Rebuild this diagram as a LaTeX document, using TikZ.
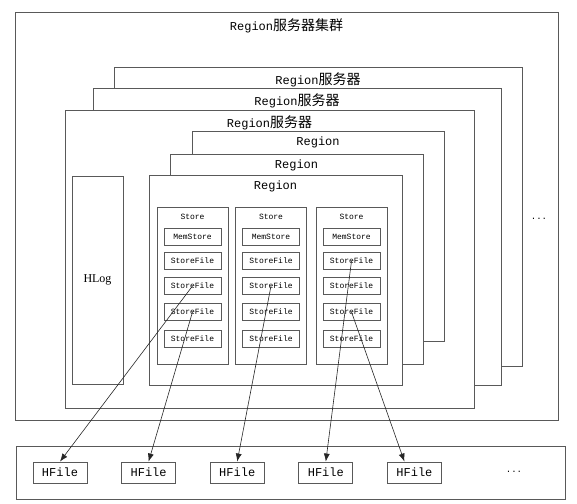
\documentclass[tikz,border=0pt]{standalone}
\usepackage{fontspec}
\setmainfont{Liberation Serif}
\setmonofont{Liberation Mono}
\newfontfamily\cjk{Noto Sans CJK SC}
\usetikzlibrary{arrows.meta}
\newcommand{\zh}[1]{{\cjk\fontsize{14}{14}\selectfont #1}}
\begin{document}
\begin{tikzpicture}[x=1pt, y=-1pt,
    box/.style={draw=gray!70!black, fill=white, line width=0.9pt, inner sep=0pt},
    big/.style={font=\fontsize{12}{14}\selectfont\ttfamily},
    small/.style={font=\fontsize{8}{10}\selectfont\ttfamily},
    title/.style={anchor=north, yshift=-6pt, inner sep=0pt, big},
    file/.style={box, small, minimum width=57pt, minimum height=17pt},
    link/.style={draw=gray!30!black, line width=0.6pt, -{Latex[length=8pt,width=6pt]}}
]
\useasboundingbox (0,0) rectangle (577,503);

\node[box, minimum width=543pt, minimum height=408pt,
      label={[title, yshift=-1pt]north:Region\zh{服务器集群}}] (cluster) at (286.5,216) {};
\node[small, font=\fontsize{9}{10}\selectfont\ttfamily] (moresrv) at (539,219) {...};

\node[box, minimum width=408pt, minimum height=299pt,
      label={[title]north:Region\zh{服务器}}] (srv3) at (318,216.5) {};
\node[box, minimum width=408pt, minimum height=297pt,
      label={[title]north:Region\zh{服务器}}] (srv2) at (297,236.5) {};
\node[box, minimum width=409pt, minimum height=298pt,
      label={[title]north:Region\zh{服务器}}] (srv1) at (269.5,259) {};

\node[box, minimum width=51pt, minimum height=208pt, font=\fontsize{12}{14}\selectfont] (hlog) at (97.5,280) {HLog};

\node[box, minimum width=252pt, minimum height=210pt, label={[title]north:Region}] (reg3) at (318,236) {};
\node[box, minimum width=253pt, minimum height=210pt, label={[title]north:Region}] (reg2) at (296.5,259) {};
\node[box, minimum width=253pt, minimum height=210pt, label={[title]north:Region}] (reg1) at (275.5,280) {};

\foreach \i/\x in {1/192.5, 2/271, 3/351.5} {
  \node[box, minimum width=71pt, minimum height=157pt,
        label={[anchor=north, yshift=-7pt, inner sep=0pt, small]north:Store}] (store\i) at (\x,285.5) {};
  \node[file] (mem\i) at (\x,237) {MemStore};
  \foreach \j/\y in {1/261, 2/286, 3/312, 4/339}
    \node[file] (sf\i-\j) at (\x,\y) {StoreFile};
}

\node[box, minimum width=549pt, minimum height=53pt] (hdfs) at (290.5,472.5) {};
\foreach \k in {1,...,5}
  \node[box, big, minimum width=54pt, minimum height=21pt] (hf\k) at ({60+88.6*(\k-1)},472.5) {HFile};
\node[small, font=\fontsize{9}{10}\selectfont\ttfamily] (morefile) at (514,472) {...};

\draw[link] (sf1-2.center) -- (hf1.north);
\draw[link] (sf1-3.center) -- (hf2.north);
\draw[link] (sf2-2.center) -- (hf3.north);
\draw[link] (sf3-1.center) -- (hf4.north);
\draw[link] (sf3-3.center) -- ([xshift=-10pt]hf5.north);
\end{tikzpicture}
\end{document}
